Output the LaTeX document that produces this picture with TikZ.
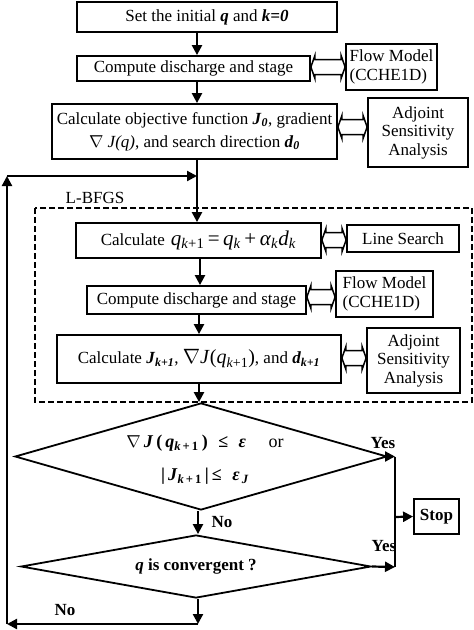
\documentclass[tikz,border=0pt]{standalone}
\usepackage{fontspec}
\setmainfont{Liberation Serif}
\usetikzlibrary{arrows.meta,shapes.geometric,calc}
\newcommand\bi[1]{\textbf{\textit{#1}}}
\newcommand\dblarrow[3]{%
\draw[dblst] let \p1=(#1.east), \p2=(#2.west), \n1={\x1}, \n2={\x2} in
 (\n1,#3) -- (\n1+4,#3-11.5) -- (\n1+4,#3-7.5) -- (\n2-4,#3-7.5) -- (\n2-4,#3-11.5) -- (\n2,#3)
 -- (\n2-4,#3+11.5) -- (\n2-4,#3+7.5) -- (\n1+4,#3+7.5) -- (\n1+4,#3+11.5) -- cycle;}
\tikzset{
  box/.style={draw, line width=1.8pt, rectangle, inner sep=1pt, align=center,
    font=\fontsize{17}{20}\selectfont},
  side/.style={box, font=\fontsize{17}{18.5}\selectfont},
  dblst/.style={draw, fill=white, line width=1.5pt, line join=miter},
  arr/.style={line width=2.2pt, -{Triangle[length=10pt,width=10pt]}},
  plain/.style={line width=2.2pt},
  dec/.style={draw, diamond, line width=1.8pt, inner sep=0pt, aspect=3.5, align=center},
  lbl/.style={inner sep=0pt, font=\fontsize{17}{20}\selectfont},
  frame/.style={line width=2.2pt, dash pattern=on 6pt off 3pt}
}
\begin{document}
\begin{tikzpicture}[x=1pt,y=-1pt]
\useasboundingbox (0,0) rectangle (474,630);
% main boxes
\node[box, minimum width=260pt, minimum height=30pt] (b1) at (207,17) {Set the initial \bi{q} and \bi{k=0}};
\node[box, minimum width=233pt, minimum height=25pt] (b2) at (193.5,68.5) {Compute discharge and stage};
\node[side, minimum width=91pt, minimum height=46pt, align=left] (fm1) at (391.5,67) {Flow Model\\(CCHE1D)};
\node[box, minimum width=285pt, minimum height=55pt, font=\fontsize{17}{23}\selectfont] (b3) at (194.5,131.5)
  {Calculate objective function \bi{J}\textsubscript{\bi{0}}, gradient\\ $\nabla$ \textit{J(q)}, and search direction \bi{d}\textsubscript{\bi{0}}};
\node[side, minimum width=100pt, minimum height=69pt] (adj1) at (418,132.5) {Adjoint\\Sensitivity\\Analysis};
% L-BFGS frame
\draw[frame] (35,208) rectangle (472,402);
\node[lbl] (lb) at (95,198) {L-BFGS};
\node[box, minimum width=245pt, minimum height=35pt] (b4) at (198.5,240.5)
  {Calculate\hspace{6pt}{\fontsize{21}{22}\selectfont\textit{q}\textsubscript{\textit{k}+1}\,=\,\textit{q}\textsubscript{\textit{k}}\,+\,\textit{α}\textsubscript{\textit{k}}\textit{d}\textsubscript{\textit{k}}}};
\node[side, minimum width=112pt, minimum height=27pt] (ls) at (403,238.5) {Line Search};
\node[box, minimum width=219pt, minimum height=28pt] (b5) at (196.5,300) {Compute discharge and stage};
\node[side, minimum width=97pt, minimum height=46pt, align=left] (fm2) at (384.5,294) {Flow Model\\(CCHE1D)};
\node[box, minimum width=284pt, minimum height=48pt] (b6) at (199,359)
  {Calculate \bi{J}\textsubscript{\bi{k+1}}, {\fontsize{20}{22}\selectfont$\nabla$\textit{J}(\textit{q}\textsubscript{\textit{k}+1})}, and \bi{d}\textsubscript{\bi{k+1}}};
\node[side, minimum width=93pt, minimum height=65pt] (adj2) at (413.5,360.5) {Adjoint\\Sensitivity\\Analysis};
% decisions
\node[dec, minimum width=372pt, minimum height=107pt] (d1) at (201,456.5) {};
\node[lbl, align=center, font=\bfseries\fontsize{18}{33}\selectfont] (d1t) at (205,460)
  {$\nabla$\,\textit{J}\,(\,\textit{q}\textsubscript{\textit{k}\,+\,1}\,)\,\, ≤\,\, \textit{ε}\quad\ \textmd{or}\\ |\,\textit{J}\textsubscript{\textit{k}\,+\,1}\,|\,≤\,\, \textit{ε}\textsubscript{\,\textit{J}}};
\node[dec, minimum width=350pt, minimum height=63pt, font=\bfseries\fontsize{17}{20}\selectfont] (d2) at (196,566.5)
  {\textit{q} is convergent ?};
\node[box, minimum width=45pt, minimum height=35pt, font=\bfseries\fontsize{17}{20}\selectfont] (stop) at (436.5,516.5) {Stop};
% double arrows
\dblarrow{b2}{fm1}{67}
\dblarrow{b3}{adj1}{127}
\dblarrow{b4}{ls}{240}
\dblarrow{b5}{fm2}{297}
\dblarrow{b6}{adj2}{358}
% coordinates
\coordinate (ax) at (197,0);
\coordinate (bx) at (200,0);
\coordinate (cx) at (199,0);
\coordinate (dx) at (198,0);
\coordinate (fb) at (197,176);
\coordinate (lt) at (7,176);
\coordinate (lbt) at (7,624);
\coordinate (bm) at (198,624);
\coordinate (r1) at (395,456.5);
\coordinate (r2) at (395,567);
\coordinate (rs) at (395,517);
% main flow
\draw[arr] (b1.south -| ax) -- (b2.north -| ax);
\draw[arr] (b2.south -| ax) -- (b3.north -| ax);
\draw[arr] (b3.south -| ax) -- (b4.north -| ax);
\draw[arr] (b4.south -| bx) -- (b5.north -| bx);
\draw[arr] (b5.south -| cx) -- (b6.north -| cx);
\draw[arr] (b6.south -| cx) -- (d1.north -| cx);
\draw[arr] (d1.south -| dx) -- (d2.north -| dx);
\node[lbl, font=\bfseries\fontsize{17}{20}\selectfont] (no1) at (222,522) {No};
% yes branches
\draw[arr] (d1.east) -- (r1);
\draw[plain] (r1) -- (r2);
\draw[arr] (d2.east) -- (r2);
\draw[arr] (rs) -- (stop.west);
\node[lbl, font=\bfseries\fontsize{17}{20}\selectfont] (y1) at (383,443) {Yes};
\node[lbl, font=\bfseries\fontsize{17}{20}\selectfont] (y2) at (384,546) {Yes};
% feedback loop
\draw[arr] (d2.south -| dx) -- (bm);
\draw[arr] (bm) -- (lbt);
\draw[arr] (lbt) -- (lt);
\draw[arr] (lt) -- (fb);
\node[lbl, font=\bfseries\fontsize{17}{20}\selectfont] (no2) at (65,610) {No};
\end{tikzpicture}
\end{document}
